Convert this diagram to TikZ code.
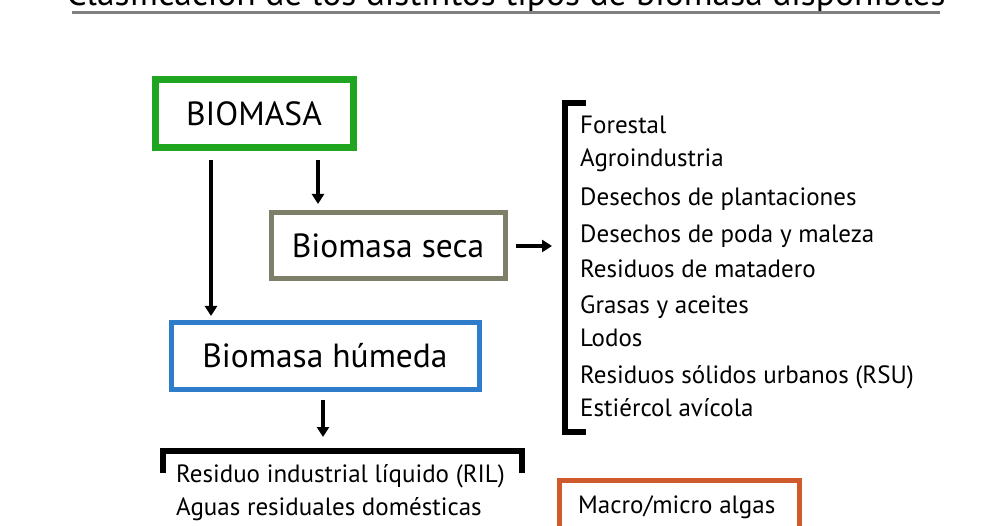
\documentclass[tikz,border=0pt]{standalone}
\usepackage{fontspec}
\setmainfont{PT Sans}
\usetikzlibrary{arrows.meta}
\definecolor{cgreen}{HTML}{1FA51F}
\definecolor{cgray}{HTML}{7D7F68}
\definecolor{cblue}{HTML}{2F7CCB}
\definecolor{corange}{HTML}{CF5A2C}
\begin{document}
\begin{tikzpicture}[x=1pt,y=-1pt,
  box/.style={draw,line width=5pt,inner sep=0pt,font=\fontsize{33.5}{33}\selectfont},
  arr/.style={line width=3.5pt,-{Triangle[length=10pt,width=12pt]}},
  item/.style={anchor=base west,inner sep=0pt,font=\fontsize{25}{25}\selectfont},
  brk/.style={line width=5.5pt}]
\useasboundingbox (0,0) rectangle (1001,526);
\node[anchor=base,inner sep=0pt,font=\fontsize{35.5}{35}\selectfont] (title) at (506,6) {Clasificación de los distintos tipos de biomasa disponibles};
\draw[line width=3pt,gray] (72,13) coordinate (u1) -- (940,13) coordinate (u2);
\node[box,draw=cgreen,line width=7pt,minimum width=198pt,minimum height=68pt] (bio) at (254,114) {BIOMASA};
\node[box,draw=cgray,minimum width=234pt,minimum height=66pt] (seca) at (388,246) {Biomasa seca};
\node[box,draw=cblue,minimum width=308pt,minimum height=66pt] (hum) at (325,356) {Biomasa húmeda};
\coordinate (a1) at (211,160); \coordinate (a1e) at (211,316);
\draw[arr] (a1) -- (a1e);
\coordinate (a2) at (318,160); \coordinate (a2e) at (318,204);
\draw[arr] (a2) -- (a2e);
\coordinate (a3) at (516,246); \coordinate (a3e) at (552,246);
\draw[arr] (a3) -- (a3e);
\coordinate (a4) at (323,400); \coordinate (a4e) at (323,437);
\draw[arr] (a4) -- (a4e);
\draw[brk] (586,103) coordinate (b1) -- (565,103) -- (565,432) -- (586,432) coordinate (b2);
\foreach \t/\y [count=\i] in {Forestal/134,Agroindustria/167,Desechos de plantaciones/206,Desechos de poda y maleza/243,Residuos de matadero/278,Grasas y aceites/314,Lodos/347,Residuos sólidos urbanos (RSU)/384,Estiércol avícola/416}
  \node[item] (l\i) at (580,\y) {\t};
\draw[brk] (163,473) coordinate (c1) -- (163,451) -- (522,451) -- (522,473) coordinate (c2);
\node[item] (r1) at (176,482) {Residuo industrial líquido (RIL)};
\node[item] (r2) at (176,515) {Aguas residuales domésticas};
\draw[corange,line width=5pt] (559,530) coordinate (o1) -- (559,480) -- (799,480) -- (799,530) coordinate (o2);
\node[item] (alg) at (578,513) {Macro/micro algas};
\end{tikzpicture}
\end{document}
